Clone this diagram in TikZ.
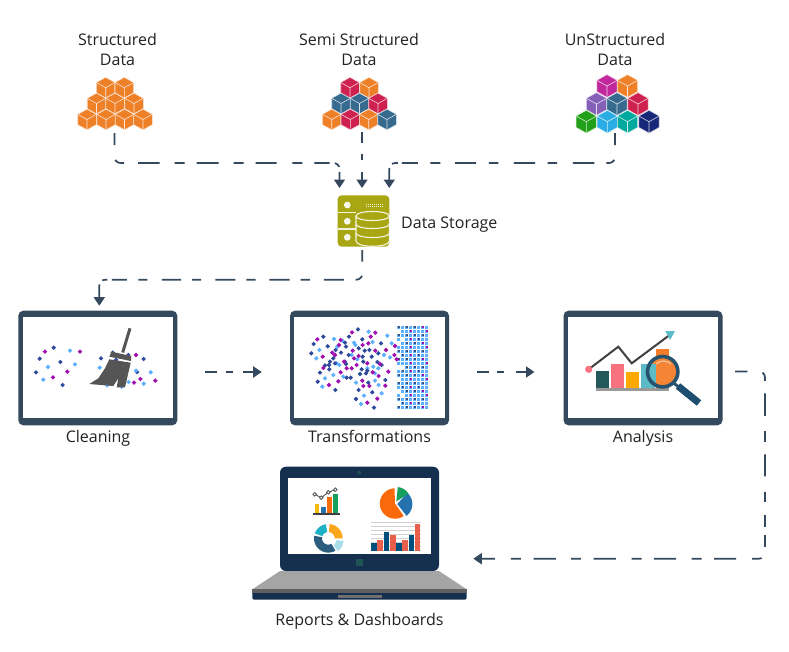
\documentclass[tikz,border=0pt]{standalone}
\usepackage{fontspec}
\setmainfont{Open Sans}
\usetikzlibrary{arrows.meta,calc}
\definecolor{flowc}{HTML}{34495E}
\definecolor{lapnavy}{HTML}{15304F}
\definecolor{txt}{HTML}{222222}
\definecolor{cOr}{HTML}{EE8028}
\definecolor{cCr}{HTML}{CF214F}
\definecolor{cBl}{HTML}{376A8F}
\definecolor{cMg}{HTML}{C0289B}
\definecolor{cPu}{HTML}{8460B8}
\definecolor{cGr}{HTML}{22A019}
\definecolor{cSk}{HTML}{2AADE4}
\definecolor{cTe}{HTML}{00A99D}
\definecolor{cNv}{HTML}{182878}
\definecolor{olive}{HTML}{A8A612}
\definecolor{dotM}{HTML}{A010B0}
\definecolor{dotN}{HTML}{2F4A9A}
\definecolor{dotL}{HTML}{5CB0FF}
\definecolor{gridN}{HTML}{3F5578}
\definecolor{broom}{HTML}{555555}
\definecolor{anaTeal}{HTML}{24595C}
\definecolor{anaPink}{HTML}{F7717F}
\definecolor{anaAmber}{HTML}{FFA800}
\definecolor{anaCyan}{HTML}{5BBBC6}
\definecolor{anaOrange}{HTML}{F57C28}
\definecolor{lensFill}{HTML}{F58434}
\definecolor{lensRing}{HTML}{28536F}
\definecolor{lensGrip}{HTML}{1D4E6F}
\definecolor{camc}{HTML}{1F4E50}
\definecolor{btnc}{HTML}{1F5454}
\definecolor{deck}{HTML}{A5A5A5}
\definecolor{strip}{HTML}{606060}
\definecolor{slot}{HTML}{6F6F6F}
\definecolor{chY}{HTML}{F2BC0A}
\definecolor{chB}{HTML}{2472AE}
\definecolor{chO}{HTML}{FA6A0A}
\definecolor{chG}{HTML}{17A05D}
\definecolor{donA}{HTML}{FAA61A}
\definecolor{donB}{HTML}{A8DDEA}
\definecolor{donC}{HTML}{2C5D7F}
\definecolor{donD}{HTML}{1FB1C5}
\definecolor{barB}{HTML}{00507F}
\definecolor{barR}{HTML}{E8604C}
\tikzset{
  lab/.style={text=txt,align=center,inner sep=0pt,font=\fontsize{16}{19.5}\selectfont},
  iconbox/.style={inner sep=0pt,outer sep=0pt},
  screenbox/.style={fill=flowc,rounded corners=5pt,inner sep=0pt,outer sep=0pt,minimum width=159pt,minimum height=114.6pt},
  flow/.style={draw=flowc,line width=1.7pt,rounded corners=6pt,-{Triangle[length=8.5pt,width=11pt]}},
}
\newcommand{\cubeat}[5]{% cx cy w r color
  \filldraw[fill=#5,draw=white!80!#5,line width=.6pt,line join=round]
    (#1,#2-#4) -- (#1+#3,#2-#4/2) -- (#1+#3,#2+#4/2) -- (#1,#2+#4) -- (#1-#3,#2+#4/2) -- (#1-#3,#2-#4/2) -- cycle;
  \draw[white!80!#5,line width=.6pt] (#1-#3,#2-#4/2) -- (#1,#2) -- (#1+#3,#2-#4/2) (#1,#2) -- (#1,#2+#4);
}
\newcommand{\pieslice}[6]{% cx cy r a b color
  \fill[#6] (#1,#2) -- plot[domain=#4:#5,samples=30] ({#1+#3*cos(\x)},{#2-#3*sin(\x)}) -- cycle;
}
\newcommand{\ringseg}[7]{% cx cy R r a b color
  \fill[#7] plot[domain=#5:#6,samples=30] ({#1+#3*cos(\x)},{#2-#3*sin(\x)}) -- plot[domain=#6:#5,samples=30] ({#1+#4*cos(\x)},{#2-#4*sin(\x)}) -- cycle;
}
\newcommand{\dotset}[2]{% colour, list in picture coordinates of the current scope
  \foreach \a/\b in {#2} {\fill[#1] (\a,\b) +(2.3pt,0pt) -- +(0pt,2.3pt) -- +(-2.3pt,0pt) -- +(0pt,-2.3pt) -- cycle;}
}
\begin{document}
\begin{tikzpicture}[x=1pt,y=-1pt]
\useasboundingbox (0,0) rectangle (789,651);
\fill[white] (0,0) rectangle (789,651);

% ---- labels
\node[lab] (lstruct) at (117.5,49.5) {Structured\\Data};
\node[lab] (lsemi) at (359,49.5) {Semi Structured\\Data};
\node[lab] (lun) at (615,49.5) {UnStructured\\Data};
\node[lab,anchor=base west] (lstore) at (401,228.3) {Data Storage};
\node[lab,anchor=base] (lclean) at (98,442.5) {Cleaning};
\node[lab,anchor=base] (ltrans) at (369.5,442.5) {Transformations};
\node[lab,anchor=base] (lana) at (643,442.5) {Analysis};
\node[lab,anchor=base] (lrep) at (359.5,625) {Reports \& Dashboards};

% ---- icon anchors
\node[iconbox,minimum width=76pt,minimum height=54pt] (structured) at (115,104) {};
\node[iconbox,minimum width=76pt,minimum height=54pt] (semi) at (362,104) {};
\node[iconbox,minimum width=84pt,minimum height=58pt] (unstructured) at (615,104) {};
\node[iconbox,minimum width=51.6pt,minimum height=51.4pt] (storage) at (363.5,221) {};

% ---- cubes: structured
\foreach \cx/\cy in {105.7/87.7,124.3/87.7,96.5/103.5,115/103.5,134/103.5,87/119.5,106/119.5,124.5/119.5,143/119.5}
  {\cubeat{\cx}{\cy}{9.3}{10.4}{cOr}}
% ---- cubes: semi structured
\foreach \cx/\cy/\cc in {350/87.7/cCr,369/87.7/cOr,341/103.5/cBl,359.5/103.5/cBl,378/103.5/cCr,331.7/119.5/cOr,350.3/119.5/cCr,368.7/119.5/cOr,387/119.5/cBl}
  {\cubeat{\cx}{\cy}{9.3}{10.4}{\cc}}
% ---- cubes: unstructured
\foreach \cx/\cy/\cc in {607/86/cMg,627.5/86/cOr,596.5/104/cPu,617/104/cBl,638/104/cCr,586.3/121.7/cGr,607.3/121.7/cSk,627.5/121.7/cTe,649/121.7/cNv}
  {\cubeat{\cx}{\cy}{10.2}{11.4}{\cc}}

% ---- storage icon
\fill[olive,rounded corners=4pt] (337.7,195.3) rectangle (389.3,246.7);
\draw[white!85!olive,line width=1.1pt] (337.7,212.7) -- (356,212.7) (337.7,229) -- (356,229);
\foreach \yy in {205,221.3,237.3} {\fill[white!92!olive] (347.3,\yy) circle[radius=3.4pt];}
\draw[white!85!olive,line width=1pt,dash pattern=on 1pt off 1pt] (366,204) -- (383,204);
\draw[white!85!olive,line width=1pt,dash pattern=on 1pt off 1pt] (366,206) -- (383,206);
\fill[olive,draw=white!88!olive,line width=1.1pt] (356,216) .. controls (356,210) and (389.3,210) .. (389.3,216) -- (389.3,241) .. controls (389.3,248) and (356,248) .. (356,241) -- cycle;
\draw[white!88!olive,line width=1.1pt] (356,216) .. controls (356,222) and (389.3,222) .. (389.3,216);
\draw[white!88!olive,line width=1.1pt] (356,224) .. controls (356,230) and (389.3,230) .. (389.3,224);
\draw[white!88!olive,line width=1.1pt] (356,233) .. controls (356,239) and (389.3,239) .. (389.3,233);

% ---- screens
\node[screenbox] (cleaning) at (97.8,368) {};
\node[screenbox] (transformations) at (369.5,368) {};
\node[screenbox] (analysis) at (643,368) {};
\fill[white] (22.7,317.3) rectangle (173,418);
\fill[white] (294.4,317.3) rectangle (444.7,418);
\fill[white] (567.9,317.3) rectangle (718.2,418);

% ---- cleaning content
\begin{scope}[shift={(10,300)},x=.3333pt,y=-.3333pt]
\dotset{dotN}{131/143,89/176,151/186,78/217,158/255,273/175,318/180,401/177,381/216,355/165,308/158}
\dotset{dotM}{105/155,210/155,172/215,129/232,378/165,391/237,372/248,436/242}
\dotset{dotL}{180/152,195/193,114/201,100/239,269/203,378/212,422/217,356/246,401/251,292/256,335/260}
\end{scope}
\draw[broom,line width=3pt] (130,328.3) -- (122.7,352.5);
\fill[broom] (111.7,351.7) -- (131,356) -- (131,361) -- (109.3,356.7) -- cycle;
\fill[broom] (109.3,359.3) -- (130.7,362.7) -- (125,387.3) -- (116.7,387.3) -- (118.3,378.3) -- (113.3,386) -- (89.3,384) -- (98.3,378.3) -- (105,368.3) -- cycle;

% ---- transformations content
\foreach \r in {0,...,20} {\foreach \c in {0,...,7} {
  \pgfmathtruncatemacro{\rp}{mod(\r,2)}
  \pgfmathtruncatemacro{\cp}{mod(\c,2)}
  \pgfmathtruncatemacro{\rq}{mod(\r,4)}
  \pgfmathtruncatemacro{\skipit}{(\c==0 && mod(\r,3)==1) || (\c==1 && mod(\r,7)==3) ? 1 : 0}
  \pgfmathtruncatemacro{\kind}{\rp==0 ? (\cp==0 ? ((\c==6 && \rq==0) ? 2 : 1) : 0) : ((\c==3 || (\c==7 && \rq==1)) ? 2 : (((\c==1 || \c==5) && \rq==3) ? 1 : 0))}
  \ifnum\skipit=0
    \fill[dotL] ({397.3+4.02*\c},{326.2+4*\r}) rectangle +(3pt,-3pt);
    \ifcase\kind
    \or
      \fill[gridN] ({397.7+4.02*\c},{325.8+4*\r}) rectangle +(2.6pt,-2.6pt);
    \or
      \fill[dotM] ({397.7+4.02*\c},{325.8+4*\r}) rectangle +(2.6pt,-2.6pt);
    \fi
  \fi
}}
\begin{scope}[shift={(280,300)},x=.3333pt,y=-.3333pt]
\dotset{dotL}{162/117,118/150,109/175,172/140,187/122,222/128,226/135,266/95,322/107,278/126,312/165,330/172,295/205,285/220,178/195,160/225,170/190,135/235,127/260,190/230,228/248,262/205,285/242,296/255,252/287,243/312,305/280,215/165,232/178,280/200,335/130}
\dotset{dotN}{234/88,130/110,101/132,94/160,143/139,167/150,183/158,207/110,195/128,198/140,206/165,247/118,236/145,254/152,268/150,248/170,250/185,275/170,303/130,292/186,305/195,295/160,160/175,150/185,147/195,148/208,165/190,120/218,135/196,113/245,166/270,200/233,212/233,245/208,262/212,258/220,240/222,316/240,265/248,236/270,277/277,228/297,282/323,195/185,198/192}
\dotset{dotM}{112/118,182/120,177/135,216/97,286/98,272/110,248/135,265/130,218/152,236/168,286/152,318/150,157/158,128/170,165/165,222/175,192/185,262/190,300/192,230/195,200/205,215/205,278/217,325/215,296/228,182/217,130/204,175/244,147/255,247/242,250/258,268/258,316/257,292/296,262/308,343/165,350/178,345/138}
\end{scope}

% ---- analysis content
\fill[white!60!black] (596,388.3) rectangle (669.3,390.7);
\fill[anaTeal] (596,371) rectangle (609.3,388.3);
\fill[anaPink] (611.3,364.3) rectangle (624.3,388.3);
\fill[anaAmber] (626.3,372.3) rectangle (639.3,388.3);
\fill[anaCyan] (641.3,364.3) rectangle (654.7,388.3);
\fill[anaOrange] (656.3,349) rectangle (669.3,388.3);
\draw[black!75,line width=2pt] (588.7,369.3) -- (618.3,346.7) -- (631.7,363.3) -- (668.3,336);
\fill[anaPink] (588.7,369.3) circle[radius=3.6pt];
\fill[anaCyan] (665.3,331) -- (675,331) -- (670,340) -- cycle;
\fill[lensFill] (662.7,371.7) circle[radius=15pt];
\fill[anaCyan] (647.7,364.3) rectangle (656.3,386);
\draw[lensRing,line width=3.6pt] (662.7,371.7) circle[radius=15.2pt];
\draw[white,opacity=.6,line width=1pt] (656,364) .. controls (660,360) and (667,360) .. (671,364);
\draw[lensRing,line width=3pt] (673.5,383) -- (680,388);
\draw[lensGrip,line width=7pt] (678,386) -- (699,403);

% ---- laptop
\node[iconbox,fill=lapnavy,rounded corners=6pt,minimum width=159pt,minimum height=104.3pt] (reports) at (359.5,518.85) {};
\fill[white] (288.3,477.7) rectangle (431,554.3);
\fill[camc] (359.3,472.7) circle[radius=2pt];
\fill[btnc] (356,559.3) rectangle (362.7,566);
\fill[deck] (280,571) -- (439,571) -- (466.7,589.3) -- (252.3,589.3) -- cycle;
\fill[lapnavy,rounded corners=2pt] (252.3,590) rectangle (466.7,599.7);
\fill[strip] (252.3,589.3) rectangle (466.7,592.7);
\fill[slot] (337.7,594.7) rectangle (381.7,597.7);
% line and bars
\fill[chY] (314.7,504) rectangle (319.3,514);
\fill[chB] (321,507) rectangle (326,514);
\fill[chO] (327,497) rectangle (332,514);
\fill[chG] (333.3,493.7) rectangle (338.3,514);
\draw[black!75,line width=1.3pt] (312.7,514) -- (340,514);
\draw[black!65,line width=.9pt] (314.7,494.3) -- (321.3,497.7) -- (328.3,492.3) -- (335.3,489.7);
\foreach \px/\py in {314.7/494.3,321.3/497.7,328.3/492.3,335.3/489.7}
  {\filldraw[fill=white,draw=black!65,line width=.9pt] (\px,\py) circle[radius=1.8pt];}
% pie
\pieslice{395}{503.5}{15.2}{92}{305}{chO}
\pieslice{397.3}{504}{15}{48}{-52}{chB}
\pieslice{396.3}{501.5}{14.5}{84}{33}{chG}
% donut
\ringseg{328.3}{538.3}{14.3}{6.3}{85}{0}{donA}
\ringseg{330}{540}{13.5}{6.3}{-3}{-55}{donB}
\ringseg{328.3}{538.3}{14.3}{6.3}{170}{300}{donC}
\ringseg{328.3}{538.3}{14.3}{6.3}{100}{160}{donD}
% bar chart
\foreach \yy in {522,526,530,534,538,542,546,550} {\draw[black!18,line width=.6pt] (371,\yy) -- (421,\yy);}
\foreach \xa/\xb/\yy in {371.3/376.7/542.7,383.7/389/532,396.3/401.7/542.7,408.7/414/534.7}
  {\fill[barB] (\xa,\yy) rectangle (\xb,550.7);}
\foreach \xa/\xb/\yy in {377.3/382.7/540,389.7/395.7/534.7,402.3/407.7/540,415/420.3/524}
  {\fill[barR] (\xa,\yy) rectangle (\xb,550.7);}

% ---- free ends
\coordinate (busL) at (339.5,163);
\coordinate (busR) at (389.3,163);
\coordinate (tipL) at (339.5,188);
\coordinate (tipM) at (362,188);
\coordinate (tipR) at (389.3,188);
\coordinate (busC) at (99.3,279.7);
\coordinate (tipC) at (99.3,305.7);
\coordinate (anaOut) at (735,371.5);
\coordinate (railTop) at (765,371.5);
\coordinate (railBot) at (765,558.7);
\coordinate (repIn) at (473.3,558.7);

% ---- connectors
\draw[flow,dash pattern=on 12pt off 15pt on 10pt off 14pt on 21.6pt off 15pt on 10pt off 12pt on 22pt off 15pt on 10pt off 12pt on 21pt off 15.7pt on 10pt off 12pt on 15.3pt off 5pt on 6pt off 5pt on 40pt]
  ([shift={(-.5pt,-2pt)}]structured.south) |- (busL) -- (tipL);
\draw[flow,dash pattern=on 11pt off 11pt on 6pt off 11.7pt on 40pt]
  ([yshift=-1.3pt]semi.south) -- (tipM);
\draw[flow,dash pattern=on 12pt off 15pt on 9pt off 12pt on 21.5pt off 15.7pt on 9.5pt off 12.5pt on 21.3pt off 15.4pt on 9.6pt off 12.7pt on 21pt off 14.7pt on 10pt off 12.6pt on 16pt off 4pt on 6pt off 5pt on 40pt]
  (unstructured.south) |- (busR) -- (tipR);
\draw[flow,dash pattern=on 11.7pt off 14pt on 8pt off 11.7pt on 20pt off 14pt on 9.3pt off 11pt on 20.3pt off 13.7pt on 9.3pt off 11pt on 20pt off 14.3pt on 9pt off 11pt on 19.3pt off 14.3pt on 9pt off 11.7pt on 15pt off 4.5pt on 5pt off 5pt on 40pt]
  ([shift={(-1.2pt,-3.3pt)}]storage.south) |- (busC) -- (tipC);
\draw[flow,rounded corners=0pt,dash pattern=on 11.7pt off 9pt on 7pt off 10.6pt on 40pt]
  ([shift={(27.7pt,-4pt)}]cleaning.east) -- ([shift={(-28.3pt,-4pt)}]transformations.west);
\draw[flow,rounded corners=0pt,dash pattern=on 11.7pt off 8.3pt on 6.7pt off 12pt on 40pt]
  ([shift={(28.3pt,-4pt)}]transformations.east) -- ([shift={(-29pt,-4pt)}]analysis.west);
\draw[flow,dash pattern=on 12.3pt off 15.4pt on 9pt off 12.6pt on 22.4pt off 15.3pt on 10.7pt off 12.6pt on 22pt off 15.4pt on 10pt off 13.3pt on 11.7pt off 8.3pt on 11.7pt off 12.4pt on 9.7pt off 16pt on 22pt off 12.6pt on 10pt off 15.3pt on 22.3pt off 12.3pt on 10pt off 15.7pt on 22.3pt off 12.7pt on 9.7pt off 15.3pt on 22.3pt off 12.7pt on 10pt off 16pt on 40pt]
  (anaOut) -- (railTop) -- (railBot) -- (repIn);
\end{tikzpicture}
\end{document}
